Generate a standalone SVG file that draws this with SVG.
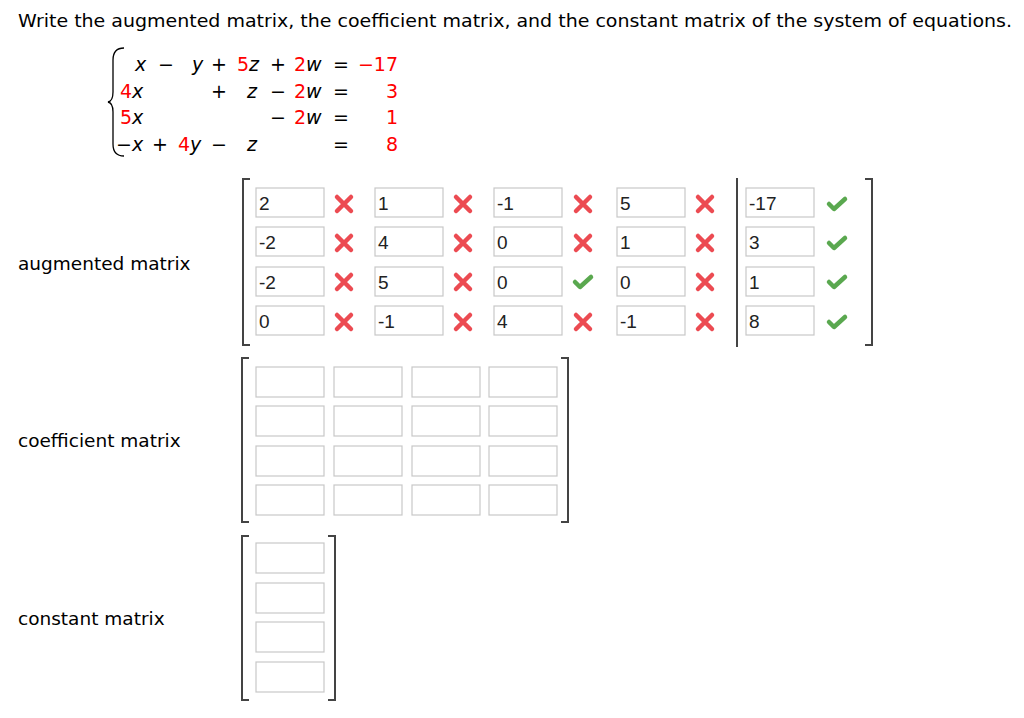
<svg xmlns="http://www.w3.org/2000/svg" width="1024" height="718" viewBox="0 0 1024 718">
<style>
.t{font-family:"DejaVu Sans",Verdana,sans-serif;font-size:18.5px;fill:#000}
.e{font-family:"DejaVu Sans",Verdana,sans-serif;font-size:19px;fill:#000}
.r{fill:#f00}
.i{font-style:italic}
.bx{fill:#fff;stroke:#c8c8c8;stroke-width:1.2}
.v{font-family:"Liberation Sans",Arial,sans-serif;font-size:19px;fill:#222}
.br{fill:none;stroke:#444;stroke-width:2}
.x{stroke:#ec4b52;stroke-width:4.5;stroke-linecap:round}
.ck{fill:none;stroke:#5aa84f;stroke-width:4.5;stroke-linecap:round;stroke-linejoin:round}
</style>
<defs>
<g id="X"><path class="x" d="M-7,-7 L7,7 M7,-7 L-7,7"/></g>
<g id="C"><path class="ck" d="M-8,0 L-3,5 L8,-5"/></g>
</defs>
<rect width="1024" height="718" fill="#fff"/>
<text class="t" x="18" y="27" textLength="994" lengthAdjust="spacingAndGlyphs">Write the augmented matrix, the coefficient matrix, and the constant matrix of the system of equations.</text>
<g id="system">
<path d="M124,48 Q113,48 113,60 L113,92 Q113,101 108,102 Q113,103 113,112 L113,144 Q113,156 124,156" fill="none" stroke="#000" stroke-width="1.3"/>
<g class="e">
<text x="135" y="71" class="i">x</text><text x="158" y="71">−</text><text x="192" y="71" class="i">y</text><text x="211" y="71">+</text><text x="237" y="71"><tspan class="r">5</tspan><tspan class="i">z</tspan></text><text x="270" y="71">+</text><text x="294" y="71"><tspan class="r">2</tspan><tspan class="i">w</tspan></text><text x="333" y="71">=</text><text x="398" y="71" text-anchor="end" class="r">−17</text>
<text x="120" y="98"><tspan class="r">4</tspan><tspan class="i">x</tspan></text><text x="211" y="98">+</text><text x="247" y="98" class="i">z</text><text x="270" y="98">−</text><text x="294" y="98"><tspan class="r">2</tspan><tspan class="i">w</tspan></text><text x="333" y="98">=</text><text x="398" y="98" text-anchor="end" class="r">3</text>
<text x="120" y="124"><tspan class="r">5</tspan><tspan class="i">x</tspan></text><text x="270" y="124">−</text><text x="294" y="124"><tspan class="r">2</tspan><tspan class="i">w</tspan></text><text x="333" y="124">=</text><text x="398" y="124" text-anchor="end" class="r">1</text>
<text x="116" y="151">−<tspan class="i">x</tspan></text><text x="152" y="151">+</text><text x="178" y="151"><tspan class="r">4</tspan><tspan class="i">y</tspan></text><text x="211" y="151">−</text><text x="247" y="151" class="i">z</text><text x="333" y="151">=</text><text x="398" y="151" text-anchor="end" class="r">8</text>
</g>
</g>
<text class="t" x="18" y="270">augmented matrix</text>
<text class="t" x="18" y="447">coefficient matrix</text>
<text class="t" x="18" y="625">constant matrix</text>
<g id="augmented">
<path class="br" d="M250,179 L243,179 L243,345 L250,345"/>
<path class="br" d="M865,179 L872,179 L872,345 L865,345"/>
<line x1="737" y1="178" x2="737" y2="347" stroke="#444" stroke-width="2"/>
<g>
<rect class="bx" x="256" y="188" width="68" height="29"/><rect class="bx" x="375" y="188" width="68" height="29"/><rect class="bx" x="494" y="188" width="68" height="29"/><rect class="bx" x="617" y="188" width="68" height="29"/><rect class="bx" x="746" y="188" width="68" height="29"/>
<rect class="bx" x="256" y="227" width="68" height="29"/><rect class="bx" x="375" y="227" width="68" height="29"/><rect class="bx" x="494" y="227" width="68" height="29"/><rect class="bx" x="617" y="227" width="68" height="29"/><rect class="bx" x="746" y="227" width="68" height="29"/>
<rect class="bx" x="256" y="267" width="68" height="29"/><rect class="bx" x="375" y="267" width="68" height="29"/><rect class="bx" x="494" y="267" width="68" height="29"/><rect class="bx" x="617" y="267" width="68" height="29"/><rect class="bx" x="746" y="267" width="68" height="29"/>
<rect class="bx" x="256" y="306" width="68" height="29"/><rect class="bx" x="375" y="306" width="68" height="29"/><rect class="bx" x="494" y="306" width="68" height="29"/><rect class="bx" x="617" y="306" width="68" height="29"/><rect class="bx" x="746" y="306" width="68" height="29"/>
</g>
<g class="v">
<text x="259" y="210">2</text><text x="378" y="210">1</text><text x="497" y="210">-1</text><text x="620" y="210">5</text><text x="749" y="210">-17</text>
<text x="259" y="249">-2</text><text x="378" y="249">4</text><text x="497" y="249">0</text><text x="620" y="249">1</text><text x="749" y="249">3</text>
<text x="259" y="289">-2</text><text x="378" y="289">5</text><text x="497" y="289">0</text><text x="620" y="289">0</text><text x="749" y="289">1</text>
<text x="259" y="328">0</text><text x="378" y="328">-1</text><text x="497" y="328">4</text><text x="620" y="328">-1</text><text x="749" y="328">8</text>
</g>
<use href="#X" x="344" y="204"/><use href="#X" x="463" y="204"/><use href="#X" x="583" y="204"/><use href="#X" x="705" y="204"/><use href="#C" x="837" y="204"/>
<use href="#X" x="344" y="243"/><use href="#X" x="463" y="243"/><use href="#X" x="583" y="243"/><use href="#X" x="705" y="243"/><use href="#C" x="837" y="243"/>
<use href="#X" x="344" y="282"/><use href="#X" x="463" y="282"/><use href="#C" x="583" y="282"/><use href="#X" x="705" y="282"/><use href="#C" x="837" y="282"/>
<use href="#X" x="344" y="322"/><use href="#X" x="463" y="322"/><use href="#X" x="583" y="322"/><use href="#X" x="705" y="322"/><use href="#C" x="837" y="322"/>
</g>
<g id="coefficient">
<path class="br" d="M249,358 L242,358 L242,522 L249,522"/>
<path class="br" d="M561,358 L568,358 L568,522 L561,522"/>
<rect class="bx" x="256" y="367" width="68" height="30"/><rect class="bx" x="334" y="367" width="68" height="30"/><rect class="bx" x="412" y="367" width="68" height="30"/><rect class="bx" x="489" y="367" width="68" height="30"/>
<rect class="bx" x="256" y="406" width="68" height="30"/><rect class="bx" x="334" y="406" width="68" height="30"/><rect class="bx" x="412" y="406" width="68" height="30"/><rect class="bx" x="489" y="406" width="68" height="30"/>
<rect class="bx" x="256" y="446" width="68" height="30"/><rect class="bx" x="334" y="446" width="68" height="30"/><rect class="bx" x="412" y="446" width="68" height="30"/><rect class="bx" x="489" y="446" width="68" height="30"/>
<rect class="bx" x="256" y="485" width="68" height="30"/><rect class="bx" x="334" y="485" width="68" height="30"/><rect class="bx" x="412" y="485" width="68" height="30"/><rect class="bx" x="489" y="485" width="68" height="30"/>
</g>
<g id="constant">
<path class="br" d="M249,536 L242,536 L242,700 L249,700"/>
<path class="br" d="M328,536 L335,536 L335,700 L328,700"/>
<rect class="bx" x="256" y="543" width="68" height="30"/>
<rect class="bx" x="256" y="583" width="68" height="30"/>
<rect class="bx" x="256" y="622" width="68" height="30"/>
<rect class="bx" x="256" y="662" width="68" height="30"/>
</g>
</svg>
